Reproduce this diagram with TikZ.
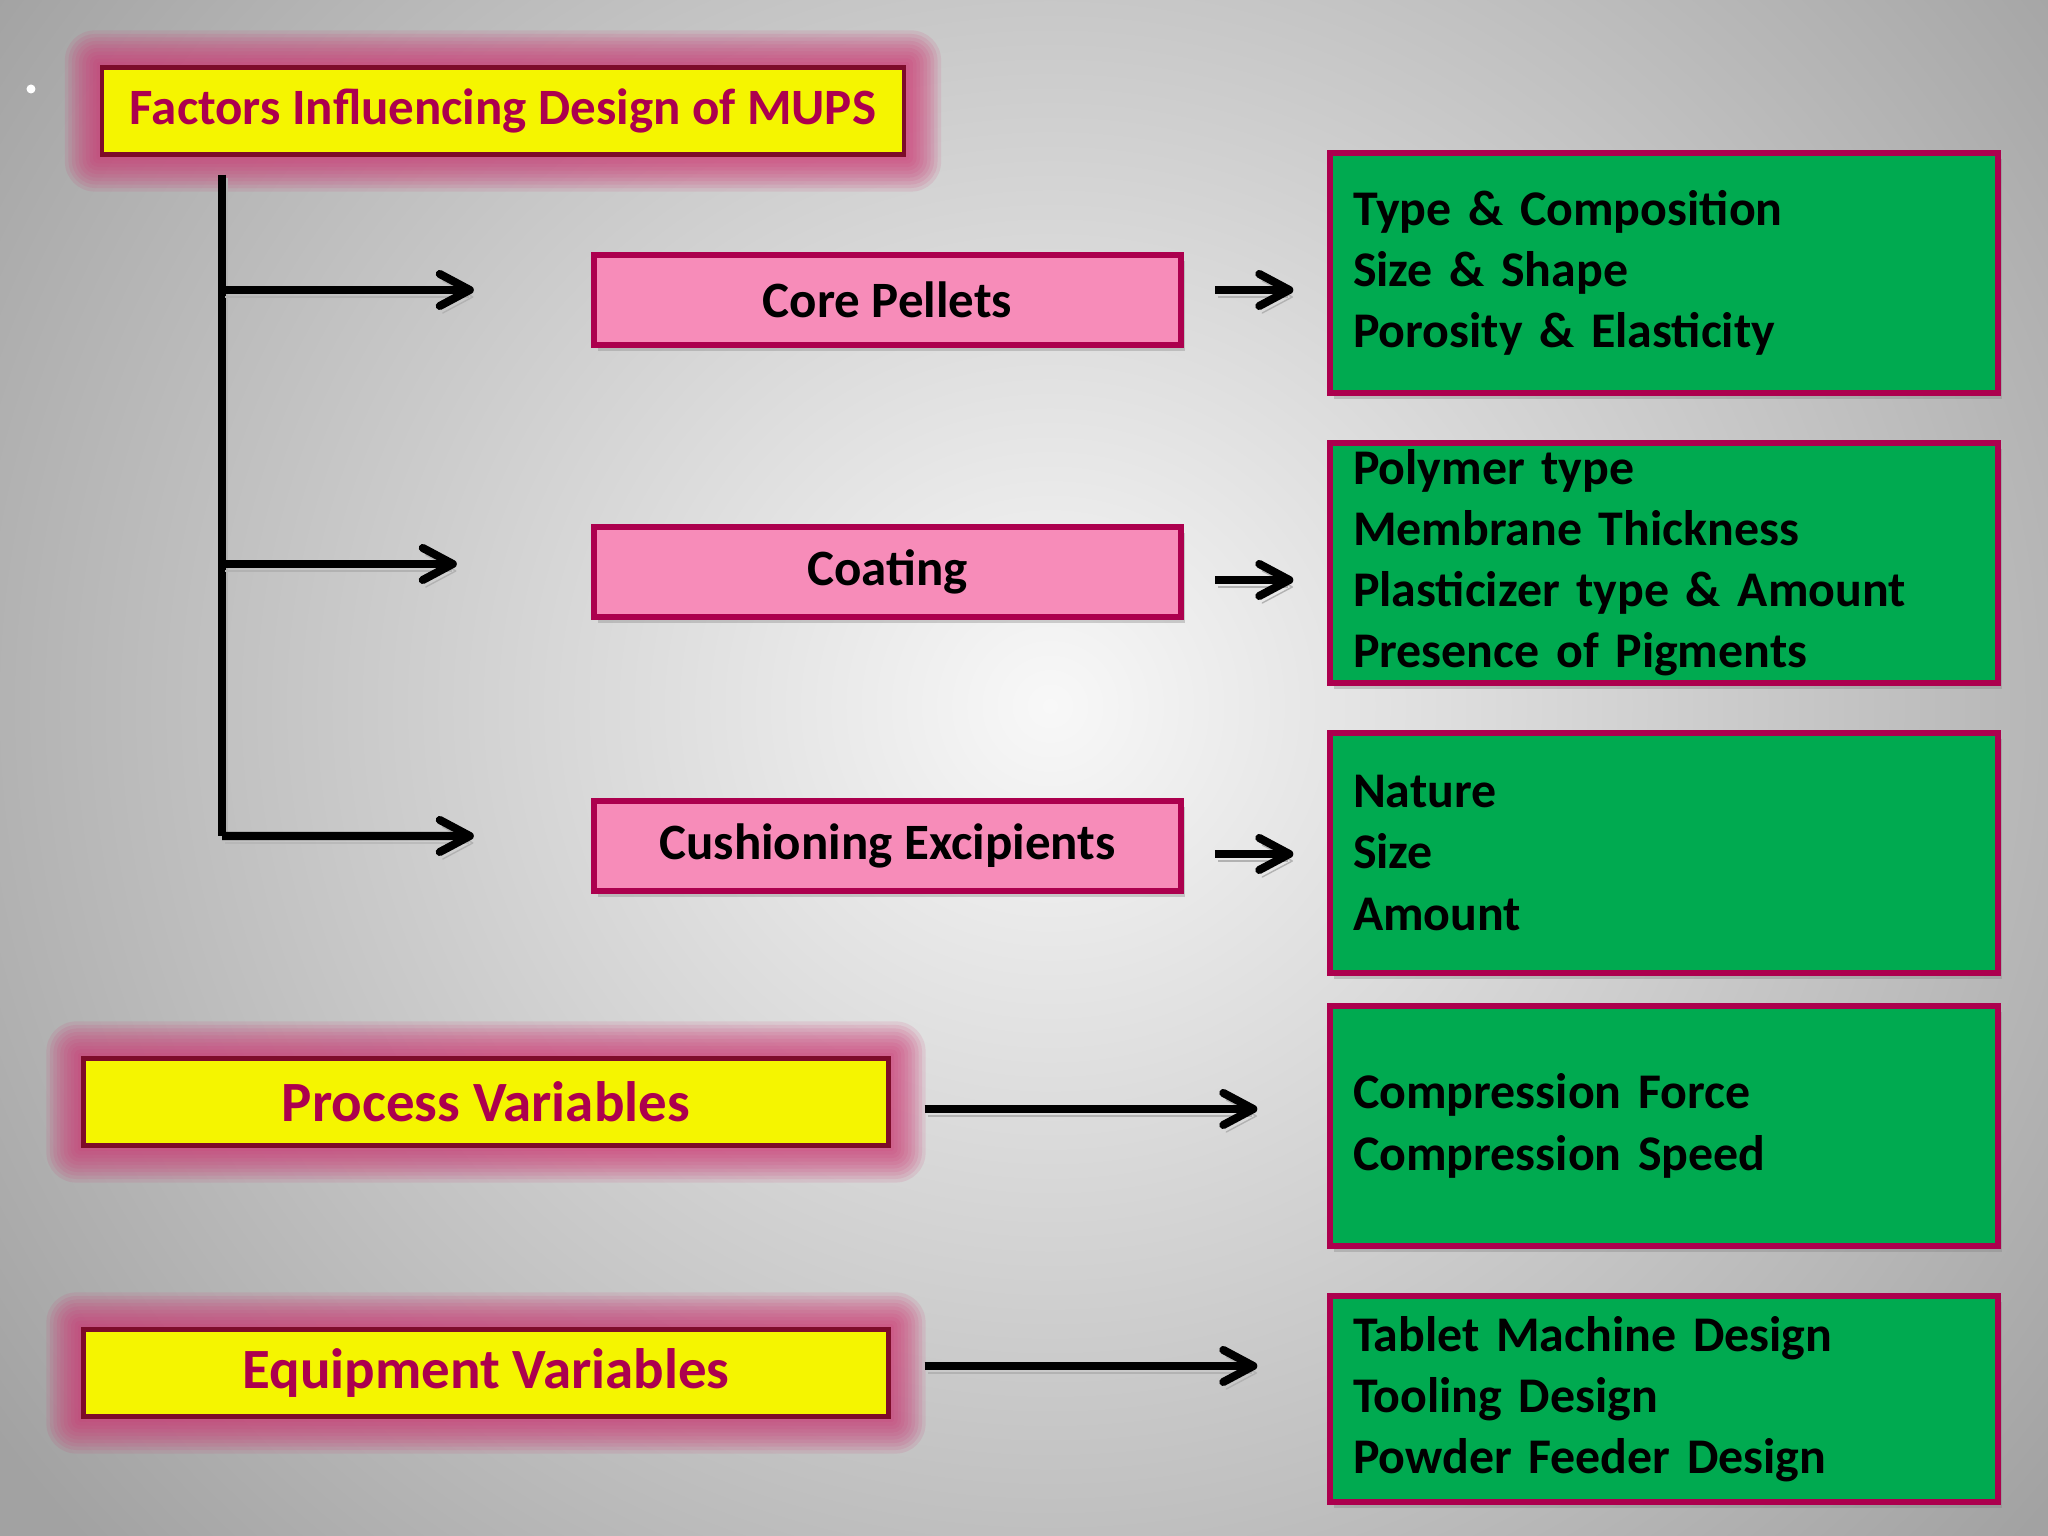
\documentclass[tikz,border=0pt]{standalone}
\usepackage{fontspec}
\setmainfont{Carlito}
\usetikzlibrary{arrows.meta,positioning,shadows}
\definecolor{mupsyellow}{RGB}{245,245,0}
\definecolor{mupscrimson}{RGB}{172,0,78}
\definecolor{mupsborder}{RGB}{125,12,42}
\definecolor{mupspink}{RGB}{247,140,185}
\definecolor{mupsgreen}{RGB}{0,170,80}
\definecolor{mupsglow}{RGB}{205,55,115}
\definecolor{bgcenter}{RGB}{248,248,248}
\definecolor{bgedge}{RGB}{162,162,162}
\pgfdeclarelayer{bg}
\pgfdeclarelayer{glow}
\pgfsetlayers{bg,glow,main}

\begin{document}
\begin{tikzpicture}[
  headbox/.style={draw=mupsborder,line width=1.2pt,fill=mupsyellow,text=mupscrimson,font=\fontsize{16.2}{19.5}\selectfont\bfseries,inner sep=0pt,minimum height=0.87cm},
  factor/.style={draw=mupscrimson,line width=1.8pt,fill=mupspink,font=\fontsize{14.5}{17.5}\selectfont\bfseries,inner sep=0pt,minimum width=5.87cm,minimum height=0.9cm,drop shadow={shadow xshift=0.4mm,shadow yshift=-0.6mm,opacity=0.35}},
  detail/.style={draw=mupscrimson,line width=1.5pt,fill=mupsgreen,font=\fontsize{14.2}{17.4}\selectfont\bfseries,align=left,text width=6.22cm,inner xsep=0.23cm,inner ysep=0pt,minimum height=2.4cm,drop shadow={shadow xshift=0.4mm,shadow yshift=-0.6mm,opacity=0.35}},
  arr/.style={line width=2.3pt,-{Straight Barb[length=3mm,width=3.2mm,round]},preaction={draw=black!30,transform canvas={shift={(0.3mm,-0.7mm)}}}}]
  \useasboundingbox (0,0) rectangle (20.48,15.36);
  % Background
  \begin{pgfonlayer}{bg}
    \begin{scope}
      \clip (0,0) rectangle (20.48,15.36);
      \shade[inner color=bgcenter,outer color=bgedge] (-2.5,-4.2) rectangle (23.5,20.8);
    \end{scope}
  \end{pgfonlayer}
  \fill[white] (0.31,14.47) circle (0.045);
  % Title
  \node[headbox,font=\fontsize{14.5}{17.5}\selectfont\bfseries,minimum width=8.02cm] (title) at (5.03,14.25) {Factors Influencing Design of MUPS};
  % Factors
  \node[factor] (core) at (8.875,12.36) {Core Pellets};
  \node[factor] (coat) at (8.875,9.64) {Coating};
  \node[factor] (cush) at (8.875,6.90) {Cushioning Excipients};
  % Details
  \node[detail] (coredet) at (16.64,12.63) {Type \& Composition\\Size \& Shape\\Porosity \& Elasticity};
  \node[detail] (coatdet) at (16.64,9.73) {Polymer type\\Membrane Thickness\\Plasticizer type \& Amount\\Presence of Pigments};
  \node[detail] (cushdet) at (16.64,6.83) {Nature\\Size\\Amount};
  \node[detail] (procdet) at (16.64,4.10) {Compression Force\\Compression Speed};
  \node[detail,minimum height=2.06cm] (equipdet) at (16.64,1.37) {Tablet Machine Design\\Tooling Design\\Powder Feeder Design};
  % Variables
  \node[headbox,minimum width=8.05cm] (proc) at (4.86,4.34) {Process Variables};
  \node[headbox,minimum width=8.05cm] (equip) at (4.86,1.63) {Equipment Variables};
  % Glow
  \begin{pgfonlayer}{glow}
    \foreach \n in {title,proc,equip}
      \foreach \g in {1,...,10}
        \fill[mupsglow,opacity=0.12,rounded corners=\g*0.3mm] ([shift={(-\g*0.35mm,\g*0.35mm)}]\n.north west) rectangle ([shift={(\g*0.35mm,-\g*0.35mm)}]\n.south east);
  \end{pgfonlayer}
  % Arrows
  \coordinate (trunk) at (2.22,7.0);
  \draw[line width=2.3pt,shorten <=1.8mm,preaction={draw=black!30,transform canvas={shift={(0.5mm,-0.3mm)}}}] (title.south -| trunk) -- (trunk);
  \draw[arr] ([yshift=0.1cm]trunk |- core) -- ([xshift=-11.7mm,yshift=0.1cm]core.west);
  \draw[arr] ([yshift=0.08cm]trunk |- coat) -- ([xshift=-13.4mm,yshift=0.08cm]coat.west);
  \draw[arr] (trunk) -- ([xshift=-11.7mm,yshift=0.1cm]cush.west);
  \draw[arr,shorten <=3.1mm,shorten >=3.4mm] ([yshift=0.1cm]core.east) -- ([yshift=0.1cm]core.east -| coredet.west);
  \draw[arr,shorten <=3.1mm,shorten >=3.4mm] ([yshift=-0.08cm]coat.east) -- ([yshift=-0.08cm]coat.east -| coatdet.west);
  \draw[arr,shorten <=3.1mm,shorten >=3.4mm] ([yshift=-0.08cm]cush.east) -- ([yshift=-0.08cm]cush.east -| cushdet.west);
  \draw[arr,shorten <=3.4mm,shorten >=7mm] ([yshift=-0.07cm]proc.east) -- ([yshift=-0.07cm]proc.east -| procdet.west);
  \draw[arr,shorten <=3.4mm,shorten >=7mm] ([yshift=0.07cm]equip.east) -- ([yshift=0.07cm]equip.east -| equipdet.west);
\end{tikzpicture}
\end{document}
